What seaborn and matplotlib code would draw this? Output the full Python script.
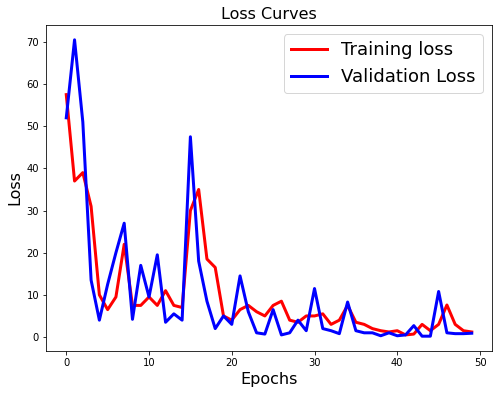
import pandas as pd
import matplotlib
matplotlib.use("Agg")
import matplotlib.pyplot as plt
import seaborn as sns

# epochs 0..49
epochs = list(range(50))

train_loss = [57.5, 37, 39, 31, 10, 6.5, 9.5, 22, 7.5, 7.5,
              9.5, 7.5, 11, 7.5, 7, 30, 35, 18.5, 16.5, 5,
              4, 6.5, 7.5, 6, 5, 7.5, 8.5, 4, 3.5, 5,
              5, 5.5, 3, 4, 7.5, 3.5, 3, 2, 1.5, 1.2,
              1.5, 0.5, 0.7, 3, 1.5, 3, 7.6, 3, 1.5, 1.2]

val_loss = [52, 70.5, 51, 13.5, 4, 12.5, 20, 27, 4.2, 17,
            9.5, 19.5, 3.5, 5.5, 4, 47.5, 18, 8.5, 2, 5,
            3, 14.5, 6, 1, 0.7, 6.5, 0.5, 1, 4, 1.5,
            11.5, 2, 1.5, 0.8, 8.3, 1.5, 1, 1, 0.3, 1,
            0.3, 0.5, 2.7, 0.2, 0.2, 10.8, 1, 0.8, 0.8, 0.9]

df = pd.DataFrame({'Epoch': epochs, 'train': train_loss, 'val': val_loss})

fig = plt.figure(figsize=(499/72, 394/72), dpi=72)
ax = fig.add_axes([46/499, 43/394, 446/499, 326/394])
sns.lineplot(x='Epoch', y='train', data=df, color='red', linewidth=3, label='Training loss', ax=ax)
sns.lineplot(x='Epoch', y='val', data=df, color='blue', linewidth=3, label='Validation Loss', ax=ax)
ax.legend(fontsize=18)
ax.set_xlabel('Epochs', fontsize=16)
ax.set_ylabel('Loss', fontsize=16)
ax.set_title('Loss Curves', fontsize=16)
fig.savefig('out.png', dpi=72)
